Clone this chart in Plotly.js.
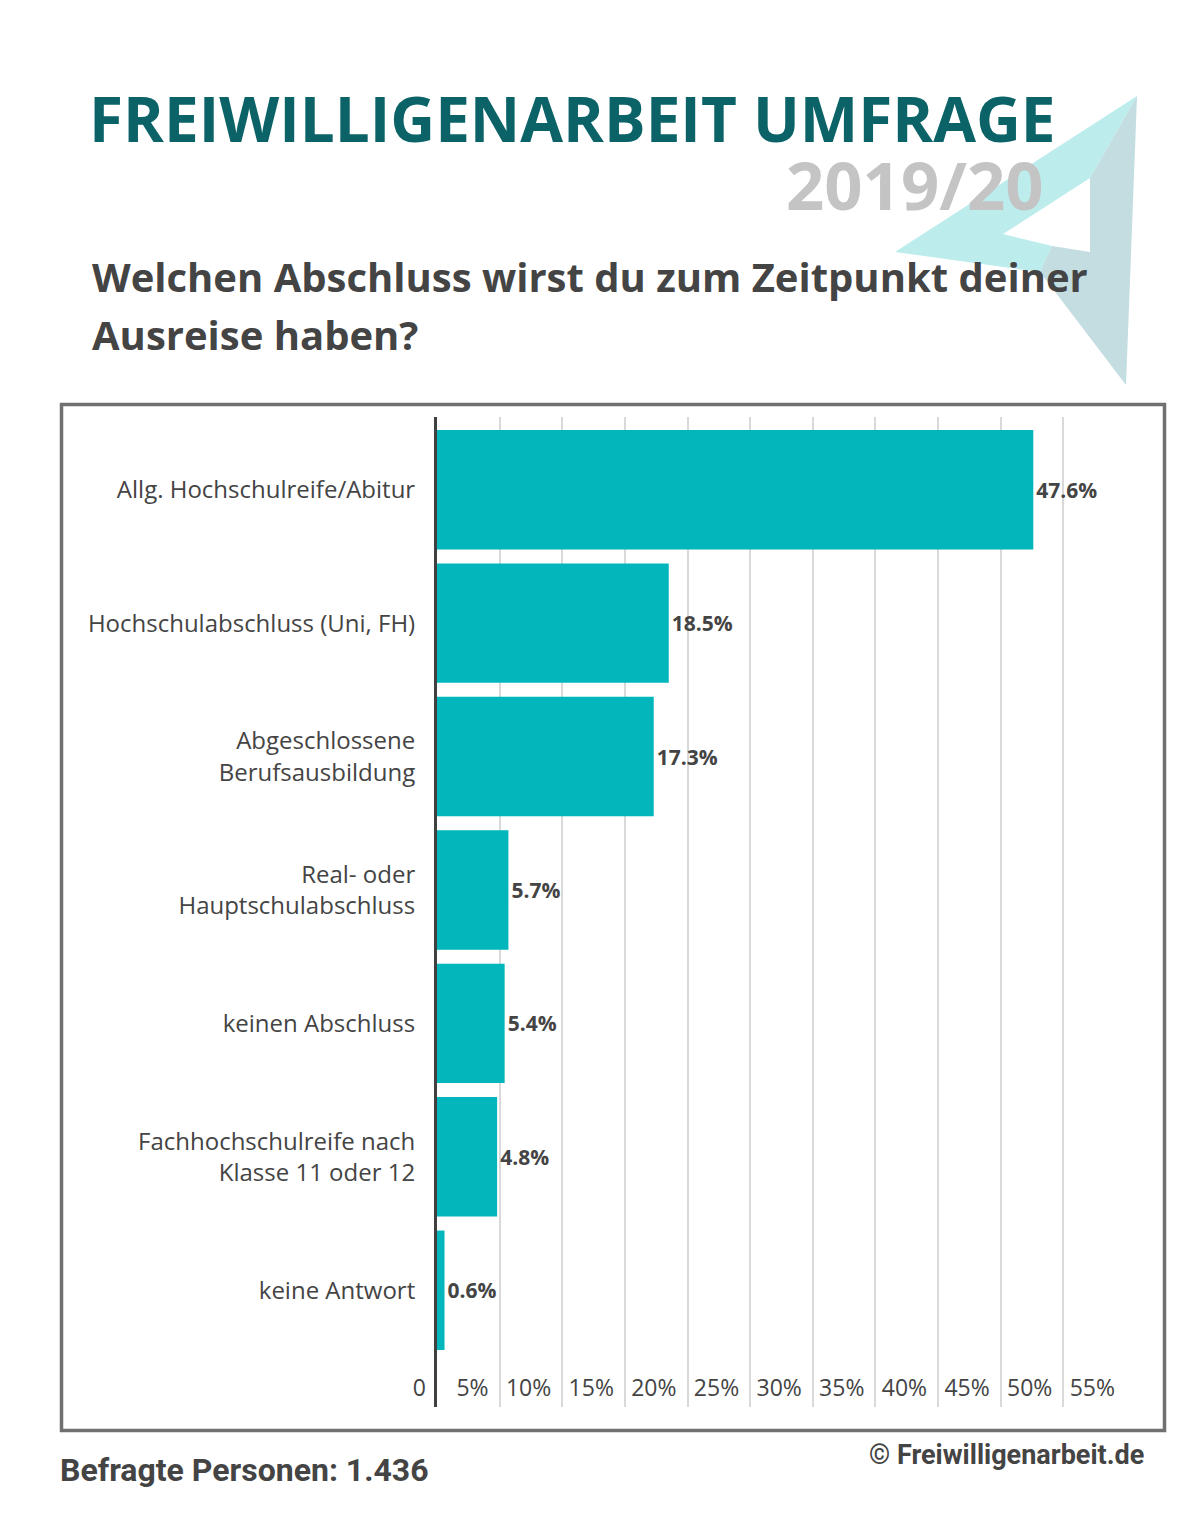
<!DOCTYPE html>
<html>
<head>
<meta charset="utf-8">
<script src="https://cdn.plot.ly/plotly-3.0.1.min.js"></script>
<style>
  html, body { margin: 0; padding: 0; background: #ffffff; }
  #chart { width: 1200px; height: 1540px; }
</style>
</head>
<body>
<div id="chart"></div>
<script>
// Survey answers: highest school/vocational qualification at departure
const categories = [
  'Allg. Hochschulreife/Abitur',
  'Hochschulabschluss (Uni, FH)',
  'Abgeschlossene<br>Berufsausbildung',
  'Real- oder<br>Hauptschulabschluss',
  'keinen Abschluss',
  'Fachhochschulreife nach<br>Klasse 11 oder 12',
  'keine Antwort'
];
const shares = [47.6, 18.5, 17.3, 5.7, 5.4, 4.8, 0.6];

const tickValues = [0, 5, 10, 15, 20, 25, 30, 35, 40, 45, 50, 55];
const tickLabels = ['0', '5%', '10%', '15%', '20%', '25%', '30%', '35%', '40%', '45%', '50%', '55%'];

const titleText = 'FREIWILLIGENARBEIT UMFRAGE';
const yearText = '2019/20';
const questionLines = ['Welchen Abschluss wirst du zum Zeitpunkt deiner', 'Ausreise haben?'];
const respondentsText = 'Befragte Personen: 1.436';
const sourceText = '© Freiwilligenarbeit.de';

// Page geometry
const W = 1200, H = 1540;
const M = { l: 437, r: 74, t: 417, b: 133 };
const plotW = W - M.l - M.r;
const plotH = H - M.t - M.b;
// page pixel -> paper coordinate helpers for decorations
const px = x => (x - M.l) / plotW;
const py = y => (H - M.b - y) / plotH;
const path = pts => 'M ' + pts.map(p => px(p[0]).toFixed(4) + ',' + py(p[1]).toFixed(4)).join(' L ') + ' Z';

const textGrey = '#444444';
const barColor = '#02b6bc';

const trace = {
  type: 'bar',
  orientation: 'h',
  y: categories,
  x: shares,
  marker: { color: barColor, line: { width: 0 } },
  texttemplate: '%{x:.1f}%',
  textposition: 'outside',
  cliponaxis: false,
  textfont: { family: 'Open Sans', size: 21, color: textGrey, weight: 700 },
  hoverinfo: 'skip'
};

// paper-plane emblem near the heading
const emblemLight = [[1137, 96], [895, 252], [1040, 272], [1052, 246], [1003, 234], [1090, 178]];
const emblemDark = [[1137, 96], [1090, 178], [1090, 252], [1052, 246], [1040, 272], [1126, 385]];

const layout = {
  width: W,
  height: H,
  margin: M,
  paper_bgcolor: '#ffffff',
  plot_bgcolor: '#ffffff',
  showlegend: false,
  bargap: 0.105,
  font: { family: 'Open Sans', color: textGrey },
  title: {
    text: titleText,
    xref: 'container', yref: 'container',
    x: 89 / W, xanchor: 'left',
    y: 1 - 120 / H, yanchor: 'middle',
    font: { family: 'Open Sans', size: 62, weight: 700, color: '#0b6367' }
  },
  xaxis: {
    range: [0, 55],
    tickmode: 'array',
    tickvals: tickValues,
    ticktext: tickLabels,
    showgrid: true,
    gridcolor: '#d9d9d9',
    gridwidth: 2,
    zeroline: false,
    showline: false,
    ticks: '',
    ticklabelposition: 'inside left',
    ticklabeloverflow: 'allow',
    ticklabelshift: -11,
    tickfont: { family: 'Open Sans', size: 23, color: textGrey },
    fixedrange: true
  },
  yaxis: {
    type: 'category',
    categoryorder: 'array',
    categoryarray: categories,
    range: [6.875, -0.545],
    showgrid: false,
    zeroline: false,
    showline: true,
    linecolor: '#404040',
    linewidth: 3,
    ticks: '',
    ticklabelstandoff: 14,
    tickfont: { family: 'Open Sans', size: 24, color: textGrey },
    fixedrange: true
  },
  shapes: [
    {
      type: 'path', xref: 'paper', yref: 'paper', layer: 'below',
      path: path(emblemLight),
      fillcolor: '#bdeced', line: { width: 0 }
    },
    {
      type: 'path', xref: 'paper', yref: 'paper', layer: 'below',
      path: path(emblemDark),
      fillcolor: '#c3dde0', line: { width: 0 }
    },
    {
      type: 'rect', xref: 'paper', yref: 'paper', layer: 'below',
      x0: px(61.5), x1: px(1164.5), y0: py(1430.5), y1: py(404.5),
      line: { color: '#707070', width: 3.5 },
      fillcolor: 'rgba(0,0,0,0)'
    }
  ],
  annotations: [
    {
      text: yearText, showarrow: false,
      xref: 'paper', yref: 'paper', x: px(1046), y: py(184),
      xanchor: 'right', yanchor: 'middle',
      font: { family: 'Open Sans', size: 67, weight: 700, color: '#c4c4c4' }
    },
    {
      text: questionLines[0], showarrow: false,
      xref: 'paper', yref: 'paper', x: px(90), y: py(276),
      xanchor: 'left', yanchor: 'middle',
      font: { family: 'Open Sans', size: 40, weight: 700, color: textGrey }
    },
    {
      text: questionLines[1], showarrow: false,
      xref: 'paper', yref: 'paper', x: px(90), y: py(335),
      xanchor: 'left', yanchor: 'middle',
      font: { family: 'Open Sans', size: 40, weight: 700, color: textGrey }
    },
    {
      text: respondentsText, showarrow: false,
      xref: 'paper', yref: 'paper', x: px(58), y: py(1470),
      xanchor: 'left', yanchor: 'middle',
      font: { family: 'Roboto', size: 32, weight: 700, color: textGrey }
    },
    {
      text: sourceText, showarrow: false,
      xref: 'paper', yref: 'paper', x: px(1146), y: py(1455),
      xanchor: 'right', yanchor: 'middle',
      font: { family: 'Roboto', size: 27, weight: 700, color: textGrey }
    }
  ]
};

Plotly.newPlot('chart', [trace], layout, { displayModeBar: false, staticPlot: true });
</script>
</body>
</html>
